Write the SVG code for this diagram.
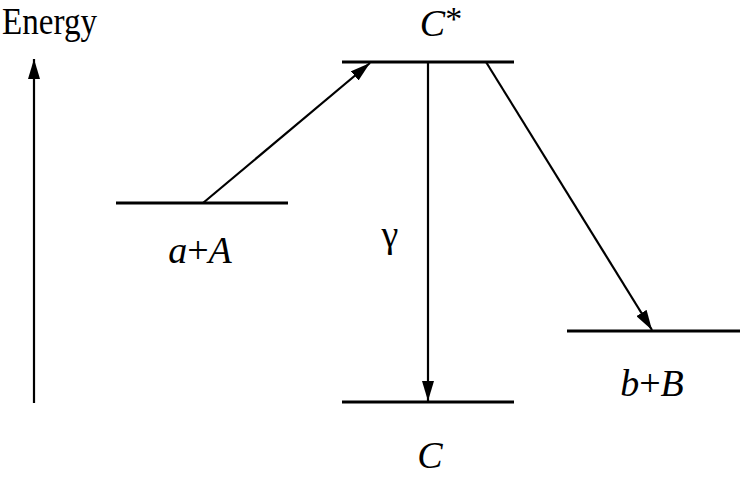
<svg xmlns="http://www.w3.org/2000/svg" width="748" height="479" viewBox="0 0 748 479">
<style>
.lvl{stroke:#000;stroke-width:3;fill:none}
.ar{stroke:#000;stroke-width:2.2;fill:none;marker-end:url(#ah)}
.t{font-family:'Liberation Serif','DejaVu Serif',serif;font-size:38px;fill:#000}
.it{font-style:italic}
</style>
<defs>
<marker id="ah" viewBox="0 0 20 12" refX="20" refY="6" markerWidth="20" markerHeight="12" markerUnits="userSpaceOnUse" orient="auto">
<path d="M0,0 L20,6 L0,12 Z" fill="#000"/>
</marker>
</defs>
<rect width="748" height="479" fill="#fff"/>
<g id="axis">
<line class="ar" x1="34" y1="403" x2="34" y2="59"/>
<text class="t" x="2" y="34" font-size="34" textLength="95" lengthAdjust="spacingAndGlyphs">Energy</text>
</g>
<g id="Cstar">
<line class="lvl" x1="342" y1="62" x2="514" y2="62"/>
<text class="t" x="441" y="36" text-anchor="middle"><tspan class="it">C</tspan><tspan dy="-6" font-size="34">*</tspan></text>
</g>
<g id="aA">
<line class="lvl" x1="116" y1="203" x2="288" y2="203"/>
<text class="t" x="200" y="263" text-anchor="middle"><tspan class="it">a</tspan>+<tspan class="it">A</tspan></text>
</g>
<g id="C">
<line class="lvl" x1="342" y1="402" x2="514" y2="402"/>
<text class="t it" x="430" y="468" text-anchor="middle">C</text>
</g>
<g id="bB">
<line class="lvl" x1="567" y1="331" x2="740" y2="331"/>
<text class="t" x="652" y="396" text-anchor="middle"><tspan class="it">b</tspan>+<tspan class="it">B</tspan></text>
</g>
<g id="connectors">
<line class="ar" x1="203" y1="203" x2="370" y2="63"/>
<line class="ar" x1="428" y1="62" x2="428" y2="401"/>
<line class="ar" x1="486" y1="62" x2="652" y2="330"/>
<text class="t" x="390" y="247" text-anchor="middle">γ</text>
</g>
</svg>
